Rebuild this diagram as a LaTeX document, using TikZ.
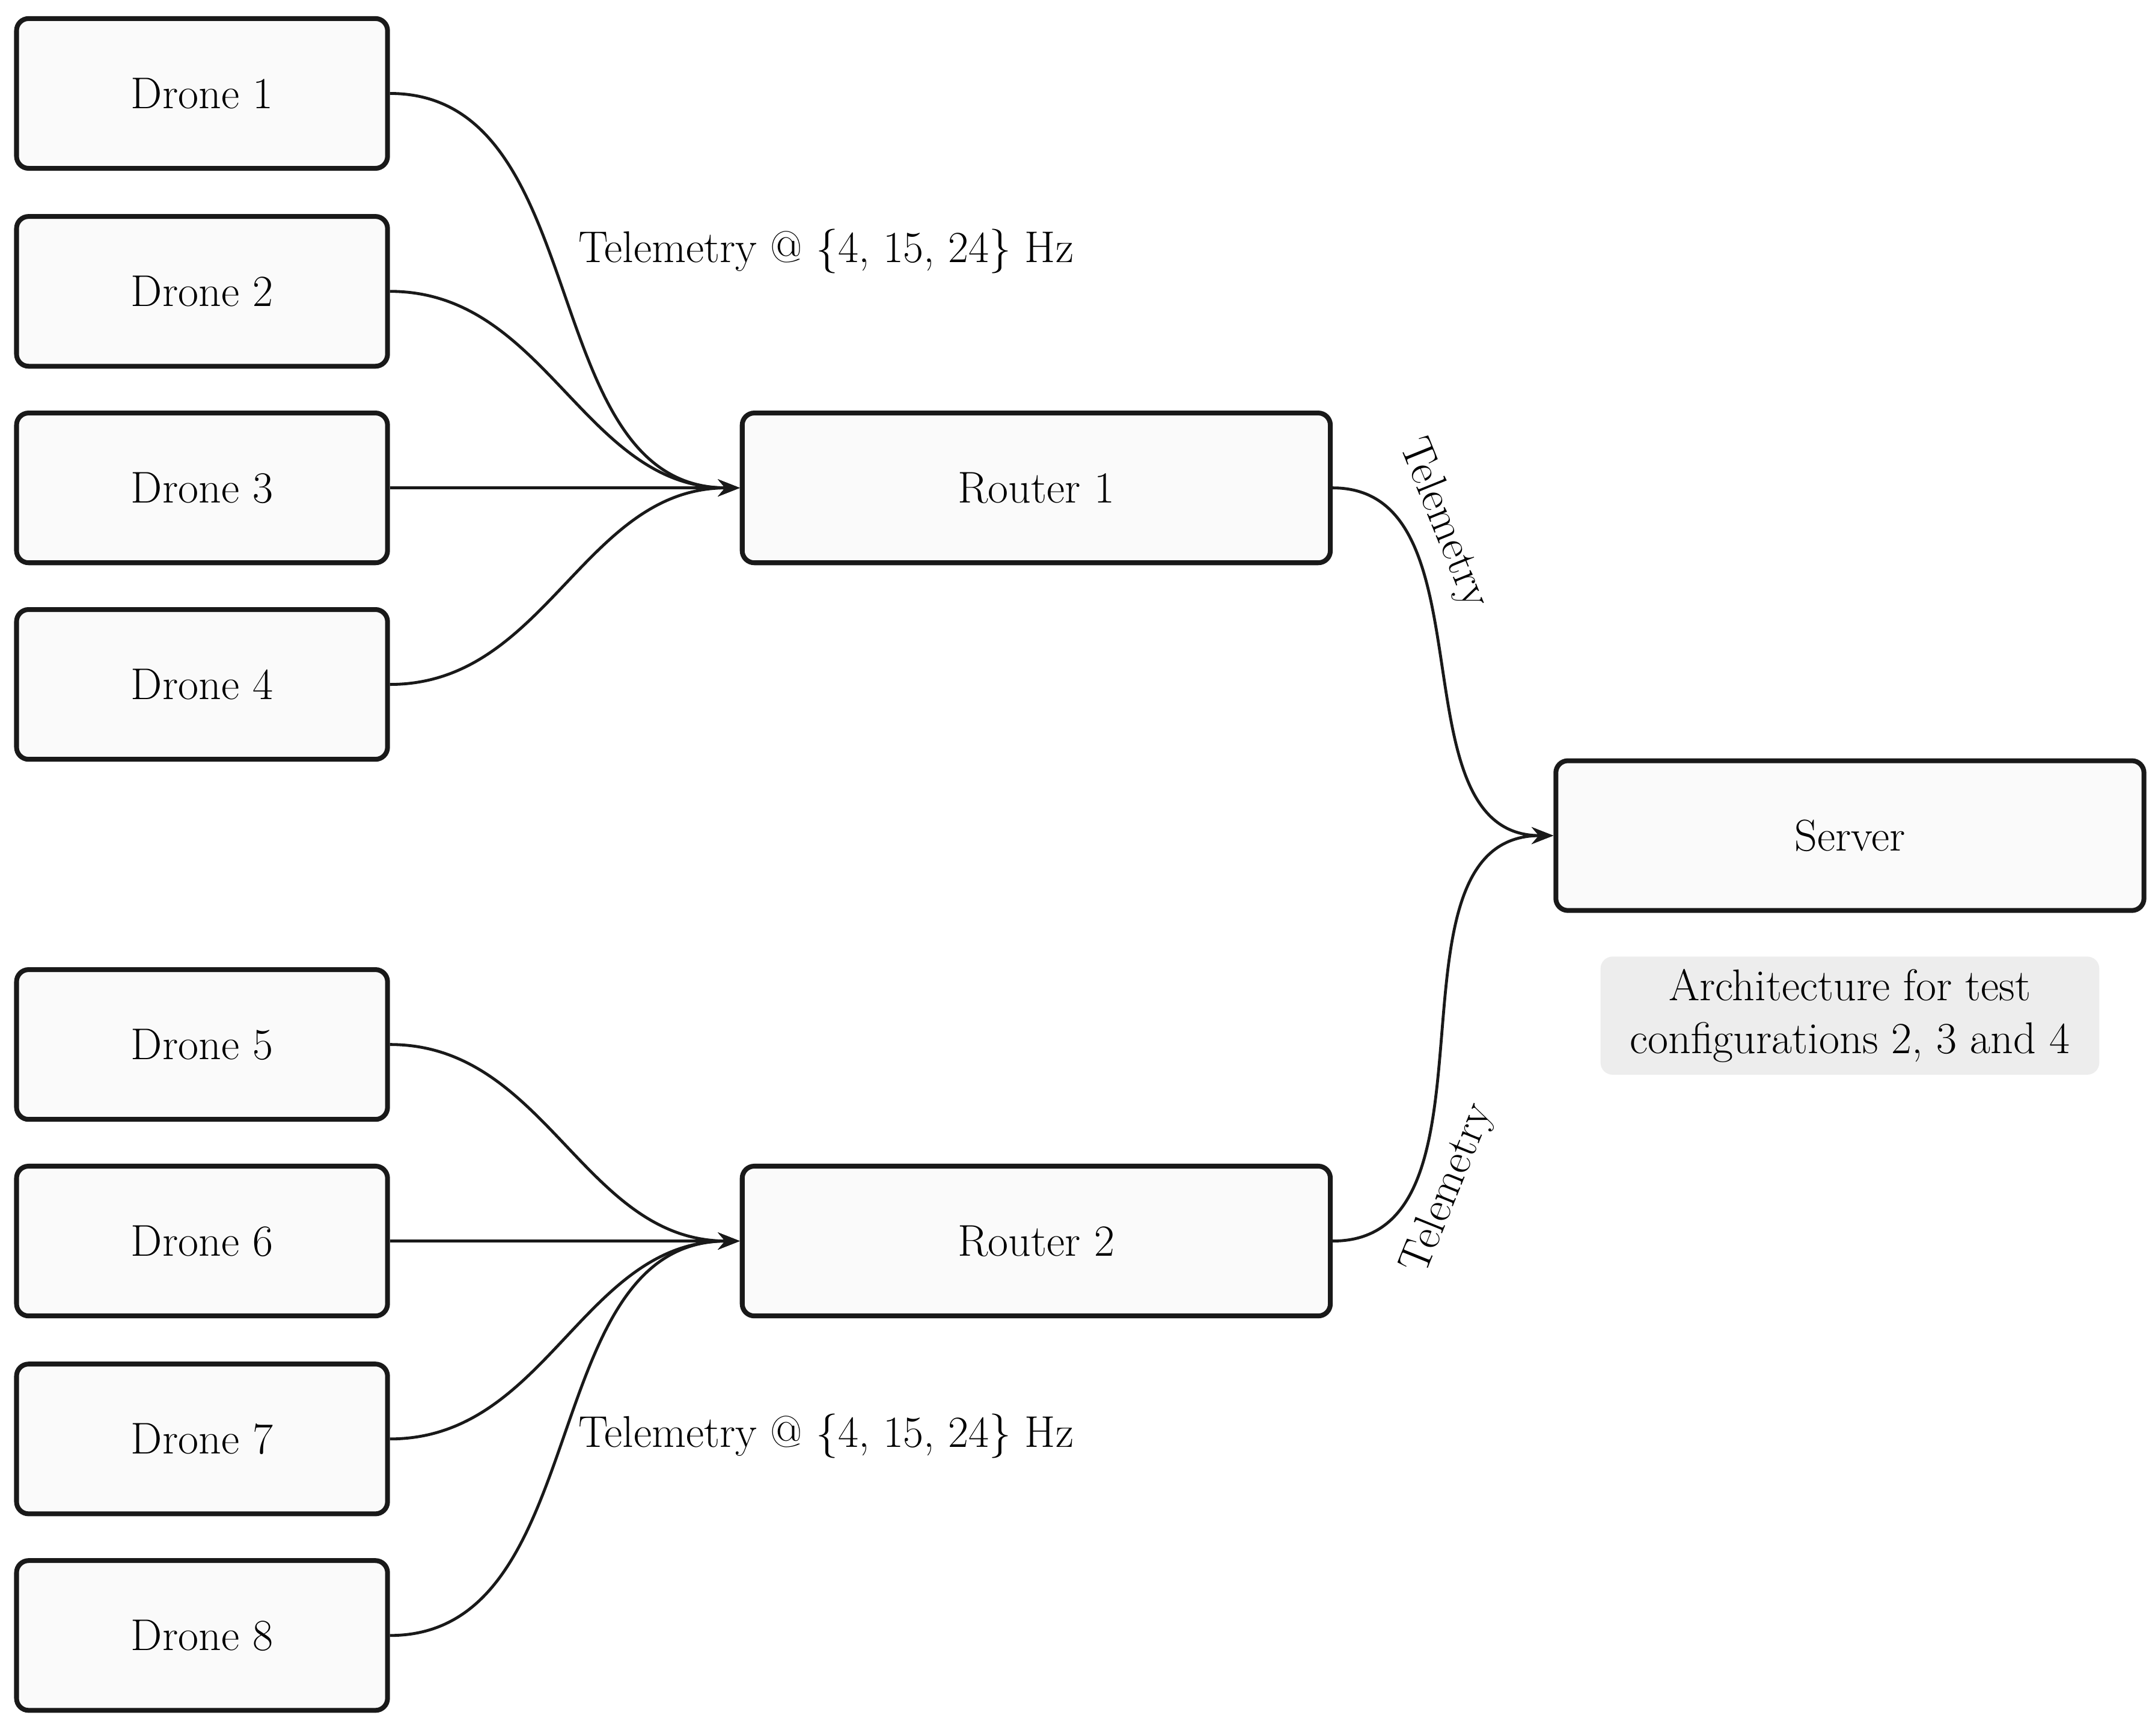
\documentclass[tikz,border=0pt]{standalone}
\usetikzlibrary{arrows.meta}
\begin{document}
\begin{tikzpicture}[x=0.02cm,y=-0.02cm,
  box/.style={draw=black!90,fill=black!2,line width=2pt,rounded corners=5pt,minimum height=2.18cm,font=\fontsize{18.4}{22}\selectfont},
  drone/.style={box,minimum width=5.4cm},
  router/.style={box,minimum width=8.56cm},
  link/.style={draw=black!90,line width=1.2pt,-{Stealth[length=9pt,width=7pt]}},
  lbl/.style={font=\fontsize{18.4}{22}\selectfont}]
\useasboundingbox (0,0) rectangle (1568,1263);
\node[drone] (d1) at (147,68) {Drone 1};
\node[drone] (d2) at (147,212) {Drone 2};
\node[drone] (d3) at (147,355) {Drone 3};
\node[drone] (d4) at (147,498) {Drone 4};
\node[drone] (d5) at (147,760) {Drone 5};
\node[drone] (d6) at (147,903) {Drone 6};
\node[drone] (d7) at (147,1047) {Drone 7};
\node[drone] (d8) at (147,1190) {Drone 8};
\node[router] (r1) at (754,355) {Router 1};
\node[router] (r2) at (754,903) {Router 2};
\node[router] (s) at (1346,608) {Server};
\node[lbl,fill=black!7,rounded corners=5pt,align=center,minimum width=7.26cm,minimum height=1.72cm,inner sep=2pt] (cap) at (1346,739) {Architecture for test\\configurations 2, 3 and 4};
\foreach \d in {d1,d2,d3,d4} \draw[link] (\d.east) to[out=0,in=180] (r1.west);
\foreach \d in {d5,d6,d7,d8} \draw[link] (\d.east) to[out=0,in=180] (r2.west);
\draw[link] (r1.east) to[out=0,in=180] (s.west);
\draw[link] (r2.east) to[out=0,in=180] (s.west);
\node[lbl] (t1) at (601,183) {Telemetry @ \{4, 15, 24\} Hz};
\node[lbl] (t2) at (601,1045) {Telemetry @ \{4, 15, 24\} Hz};
\node[lbl,rotate=-68] (t3) at (1050,381) {Telemetry};
\node[lbl,rotate=68] (t4) at (1054,865) {Telemetry};
\end{tikzpicture}
\end{document}
